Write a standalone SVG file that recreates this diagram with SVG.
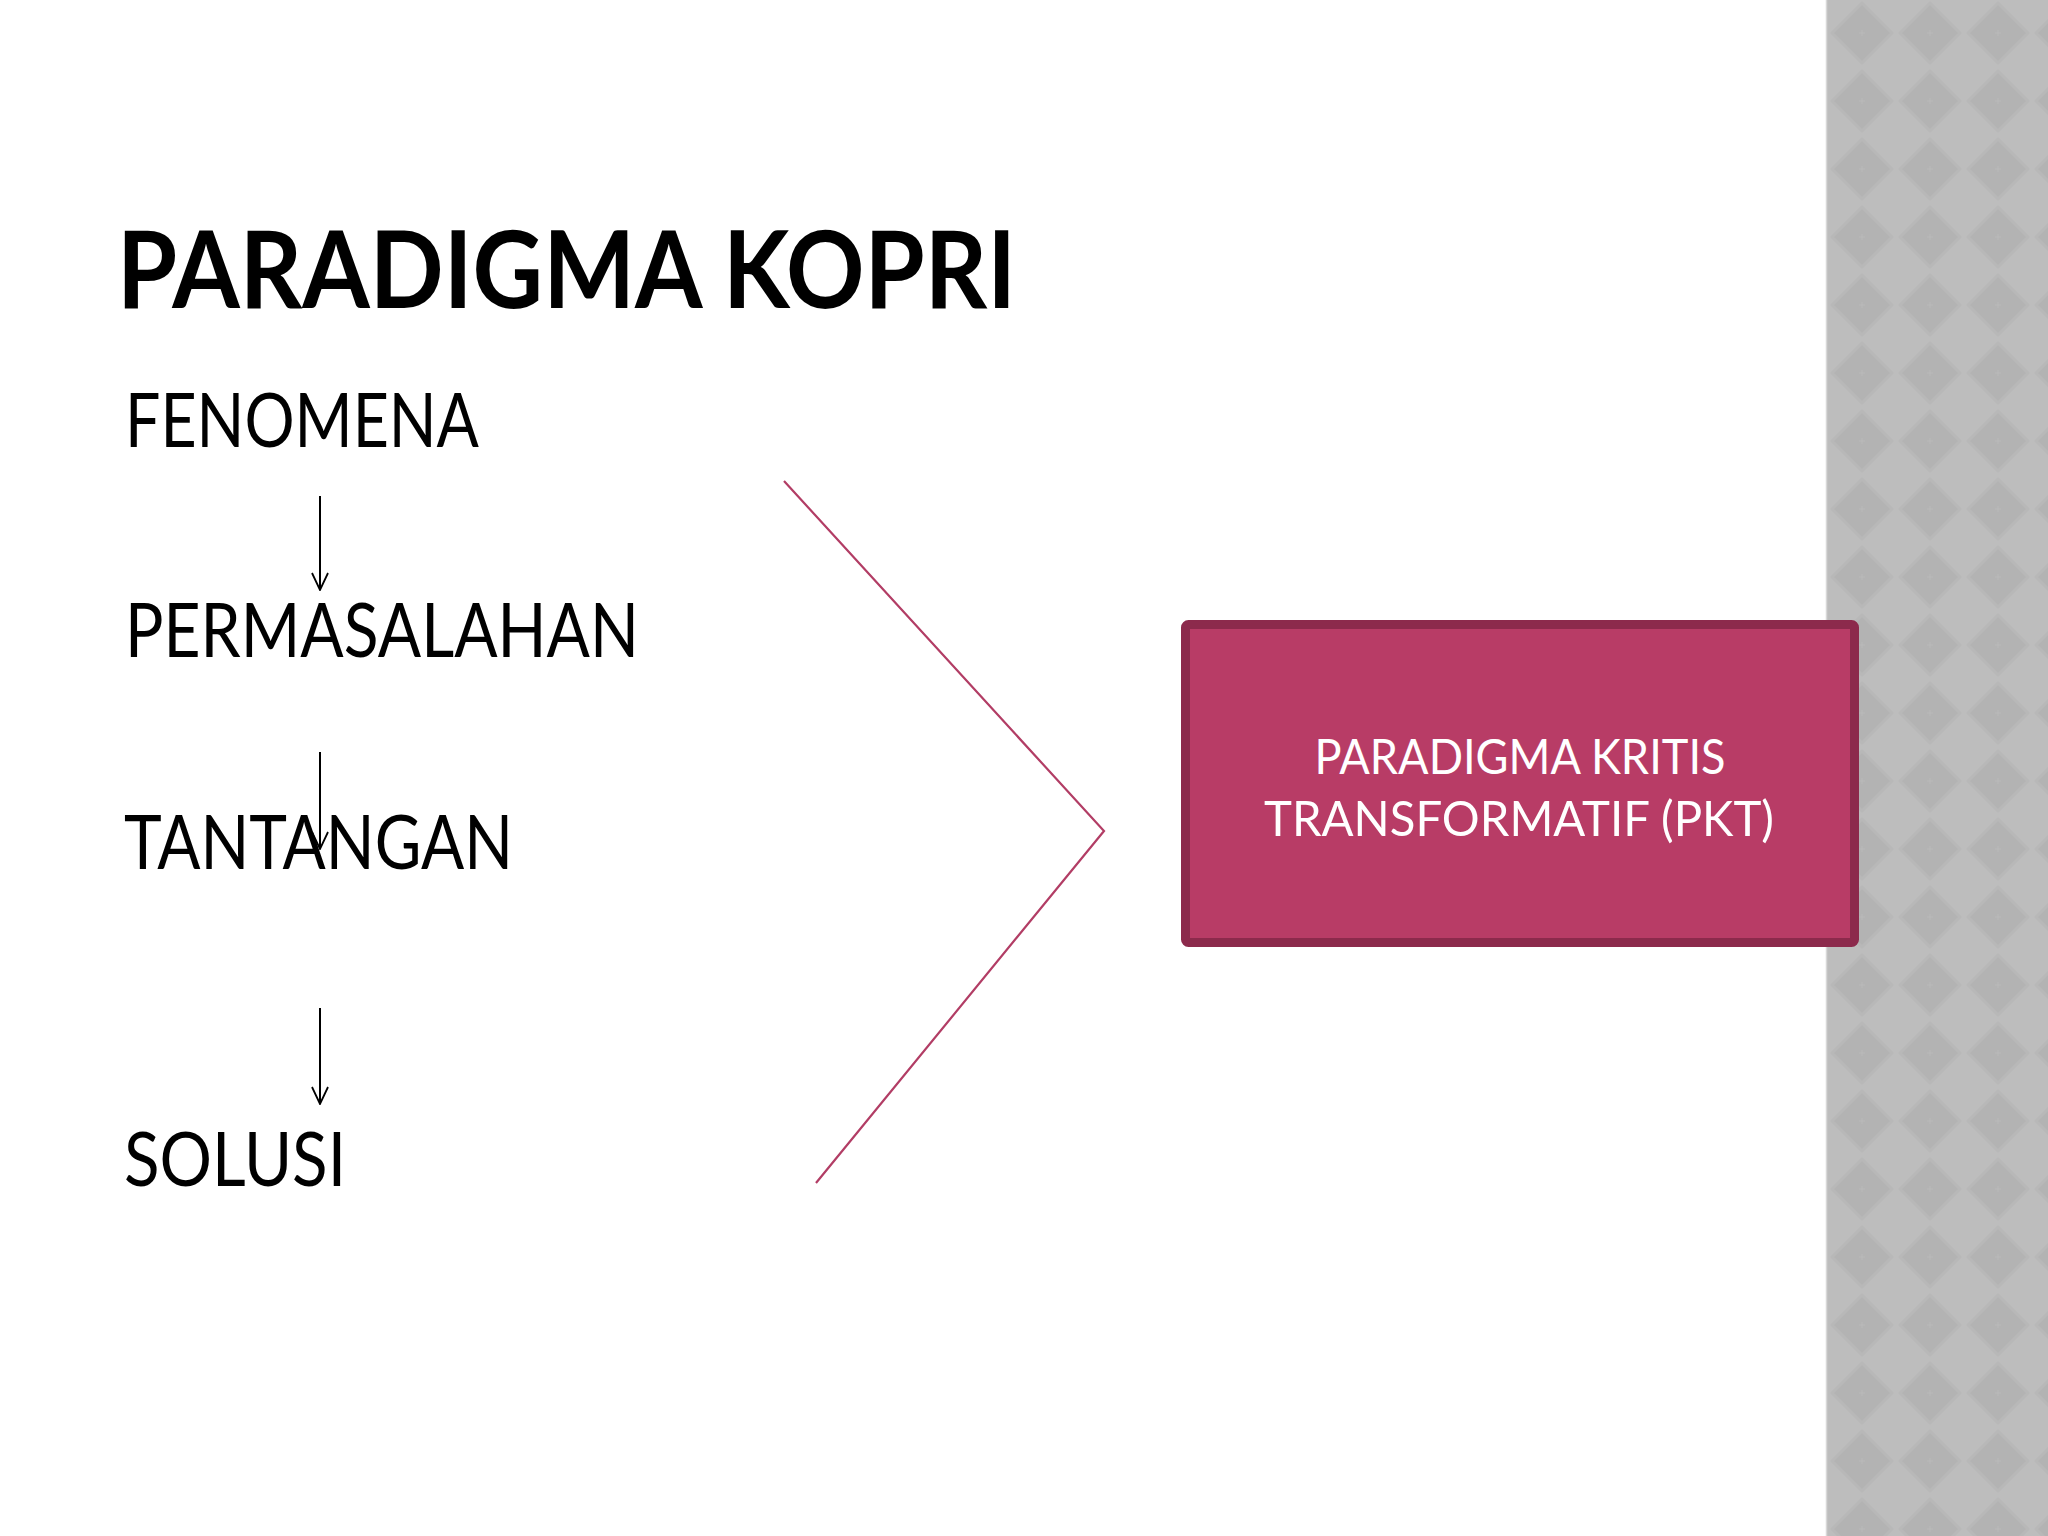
<svg xmlns="http://www.w3.org/2000/svg" width="2048" height="1536" viewBox="0 0 2048 1536">
<defs>
<pattern id="diam" x="1828" y="-1" width="68" height="68" patternUnits="userSpaceOnUse">
<rect width="68" height="68" fill="#bdbdbd"/>
<path d="M34 4 L64 34 L34 64 L4 34 Z" fill="#b3b3b3" stroke="#b8b8b8" stroke-width="3" stroke-linejoin="round"/>
<path d="M31 34 H37 M34 31 V37" stroke="#b9b9b9" stroke-width="1.2"/>
</pattern>
<marker id="arr" viewBox="0 0 20 20" refX="19" refY="10" markerWidth="20" markerHeight="20" markerUnits="userSpaceOnUse" orient="auto">
<path d="M2 2 L19 10 L2 18" fill="none" stroke="#000" stroke-width="1.8"/>
</marker>
<style>
.t{font-family:Lato,"Open Sans","DejaVu Sans",sans-serif;fill:#000}
.lbl{font-size:76px}
.bx{font-family:Lato,"Open Sans","DejaVu Sans",sans-serif;fill:#fff;font-size:49px}
.ar{stroke:#000;stroke-width:2;fill:none}
</style>
</defs>
<rect width="2048" height="1536" fill="#fff"/>
<g id="panel">
<rect x="1826" y="0" width="222" height="1536" fill="url(#diam)"/>
<line x1="1826.5" y1="0" x2="1826.5" y2="1536" stroke="#d8d8d8" stroke-width="1.5"/>
</g>
<g id="title">
<text class="t" x="117" y="308" font-size="108" font-weight="bold" textLength="899" lengthAdjust="spacingAndGlyphs">PARADIGMA KOPRI</text>
</g>
<g id="fenomena"><text class="t lbl" x="125" y="447" textLength="354" lengthAdjust="spacingAndGlyphs">FENOMENA</text></g>
<g id="permasalahan"><text class="t lbl" x="125" y="657" textLength="514" lengthAdjust="spacingAndGlyphs">PERMASALAHAN</text></g>
<g id="tantangan"><text class="t lbl" x="124" y="869" textLength="389" lengthAdjust="spacingAndGlyphs">TANTANGAN</text></g>
<g id="solusi"><text class="t lbl" x="124" y="1186" textLength="222" lengthAdjust="spacingAndGlyphs">SOLUSI</text></g>
<g id="connectors">
<line class="ar" x1="320" y1="496" x2="320" y2="590" marker-end="url(#arr)"/>
<line class="ar" x1="320" y1="752" x2="320" y2="849" marker-end="url(#arr)"/>
<line class="ar" x1="320" y1="1008" x2="320" y2="1104" marker-end="url(#arr)"/>
<polyline points="784,481 1104,831 816,1183" fill="none" stroke="#b23d65" stroke-width="2.2"/>
</g>
<g id="pkt">
<rect x="1185.5" y="624.5" width="669" height="318" rx="3" fill="#b83c66" stroke="#8c2a4c" stroke-width="9"/>
<text class="bx" x="1520" y="774" text-anchor="middle" textLength="411" lengthAdjust="spacingAndGlyphs">PARADIGMA KRITIS</text>
<text class="bx" x="1519" y="836" text-anchor="middle" textLength="510" lengthAdjust="spacingAndGlyphs">TRANSFORMATIF  (PKT)</text>
</g>
</svg>
